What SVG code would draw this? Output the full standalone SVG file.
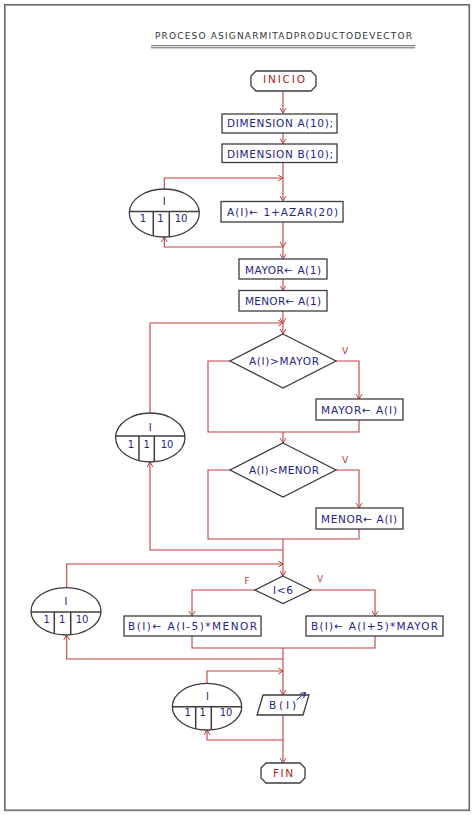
<svg xmlns="http://www.w3.org/2000/svg" width="474" height="815" viewBox="0 0 474 815">
<style>
.t{font-family:"DejaVu Sans","Liberation Sans",sans-serif;font-size:10.5px;fill:#23238c;text-anchor:middle}
.s{font-family:"DejaVu Sans","Liberation Sans",sans-serif;font-size:10px;fill:#23238c;text-anchor:middle}
.r{fill:#a82222}
.lb{font-family:"DejaVu Sans","Liberation Sans",sans-serif;font-size:9px;fill:#b83a3a;text-anchor:middle}
.b{fill:#fff;stroke:#3c3c3c;stroke-width:1.3}
.d{stroke:#3c3c3c;stroke-width:1.5;fill:none}
.c{fill:none;stroke:#bf4040;stroke-width:1.1}
.a{marker-end:url(#ah)}
</style>
<defs>
<marker id="ah" markerUnits="userSpaceOnUse" markerWidth="8" markerHeight="8" refX="5" refY="3.5" orient="auto">
<path d="M0,0.5 L5,3.5 L0,6.5" fill="none" stroke="#bf4040" stroke-width="1"/>
</marker>
<marker id="nh" markerUnits="userSpaceOnUse" markerWidth="8" markerHeight="8" refX="5" refY="3" orient="auto">
<path d="M0,0 L5,3 L0,6" fill="none" stroke="#23238c" stroke-width="1"/>
</marker>
</defs>
<rect width="474" height="815" fill="#fff"/>
<rect x="4.8" y="4.8" width="464.5" height="805.5" fill="none" stroke="#6e6e6e" stroke-width="1.7"/>
<g id="title">
<text x="283.5" y="39" textLength="257" lengthAdjust="spacing" style="font-family:'DejaVu Sans','Liberation Sans',sans-serif;font-size:9px;fill:#333;text-anchor:middle">PROCESO ASIGNARMITADPRODUCTODEVECTOR</text>
<line x1="151" y1="45.7" x2="415" y2="45.7" stroke="#666" stroke-width="1"/>
<line x1="151" y1="47.8" x2="415" y2="47.8" stroke="#666" stroke-width="1"/>
</g>
<g id="connectors">
<path class="c a" d="M283,91 V113"/>
<path class="c a" d="M283,133 V143.5"/>
<path class="c a" d="M283,162 V201"/>
<path class="c a" d="M164.3,189 V178 H283"/>
<path class="c a" d="M283,222 V247"/>
<path class="c a" d="M283,247 V259"/>
<path class="c a" d="M283,247 H164.3 V237"/>
<path class="c a" d="M283,279 V290.5"/>
<path class="c a" d="M283,311 V323"/>
<path class="c a" d="M283,323 V334"/>
<path class="c a" d="M150,413 V323 H283"/>
<path class="c a" d="M336,361 H359 V399"/>
<path class="c" d="M230,361 H208 V432 H359 V420"/>
<path class="c a" d="M283,432 V443"/>
<path class="c a" d="M336,470 H359 V508"/>
<path class="c" d="M230,470 H208 V539 H359 V529"/>
<path class="c" d="M283,539 V550"/>
<path class="c a" d="M283,550 H150 V462"/>
<path class="c a" d="M283,550 V576"/>
<path class="c a" d="M66.7,587.5 V564 H283"/>
<path class="c a" d="M255,590 H192 V616"/>
<path class="c a" d="M311,590 H375 V616"/>
<path class="c" d="M192,636 V648 H375 V636"/>
<path class="c" d="M283,648 V659"/>
<path class="c a" d="M283,659 H66.7 V635"/>
<path class="c a" d="M283,659 V695"/>
<path class="c a" d="M207,683.5 V671 H283"/>
<path class="c a" d="M283,715 V740 H207 V730"/>
<path class="c a" d="M283,740 V763"/>
</g>
<g id="inicio">
<path class="b" d="M256,71 H311 L316,76 V86 L311,91 H256 L251,86 V76 Z"/>
<text class="t r" x="284" y="82.5" textLength="42" lengthAdjust="spacing">INICIO</text>
</g>
<g id="dimA">
<rect class="b" x="222" y="114" width="115" height="19"/>
<text class="t" x="280" y="127" textLength="106" lengthAdjust="spacing">DIMENSION A(10);</text>
</g>
<g id="dimB">
<rect class="b" x="222" y="144" width="115" height="18.5"/>
<text class="t" x="280" y="157.5" textLength="106" lengthAdjust="spacing">DIMENSION B(10);</text>
</g>
<g id="loop1">
<ellipse class="b" cx="164.3" cy="213" rx="35" ry="24"/>
<line class="d" x1="129.3" y1="211.5" x2="199.3" y2="211.5"/>
<line class="d" x1="153.3" y1="211.5" x2="153.3" y2="235.8"/>
<line class="d" x1="169.3" y1="211.5" x2="169.3" y2="236.6"/>
<text class="s" x="164.3" y="205">I</text>
<text class="s" x="143" y="222">1</text>
<text class="s" x="160.5" y="222">1</text>
<text class="s" x="181" y="222">10</text>
</g>
<g id="azar">
<rect class="b" x="221" y="201.5" width="122" height="20.5"/>
<text class="t" x="282.5" y="216" textLength="111" lengthAdjust="spacing">A(I)← 1+AZAR(20)</text>
</g>
<g id="mayor1">
<rect class="b" x="239" y="259" width="88" height="20"/>
<text class="t" x="283" y="273.5" textLength="76" lengthAdjust="spacing">MAYOR← A(1)</text>
</g>
<g id="menor1">
<rect class="b" x="239" y="290.5" width="88" height="20.5"/>
<text class="t" x="283" y="304.5" textLength="76" lengthAdjust="spacing">MENOR← A(1)</text>
</g>
<g id="loop2">
<ellipse class="b" cx="150.3" cy="437.5" rx="34.7" ry="24.5"/>
<line class="d" x1="115.6" y1="436" x2="185" y2="436"/>
<line class="d" x1="139" y1="436" x2="139" y2="460.7"/>
<line class="d" x1="154.3" y1="436" x2="154.3" y2="461.8"/>
<text class="s" x="150.3" y="431">I</text>
<text class="s" x="131" y="448">1</text>
<text class="s" x="146.7" y="448">1</text>
<text class="s" x="167" y="448">10</text>
</g>
<g id="cond1">
<polygon class="b" points="283,334 336,361 283,388 230,361"/>
<text class="t" x="284" y="365" textLength="70" lengthAdjust="spacing">A(I)&gt;MAYOR</text>
<text class="lb" x="345" y="354">V</text>
</g>
<g id="mayor2">
<rect class="b" x="316" y="399" width="87" height="21"/>
<text class="t" x="359" y="413.5" textLength="76" lengthAdjust="spacing">MAYOR← A(I)</text>
</g>
<g id="cond2">
<polygon class="b" points="283,443 336,470 283,497 230,470"/>
<text class="t" x="284" y="474" textLength="70" lengthAdjust="spacing">A(I)&lt;MENOR</text>
<text class="lb" x="345" y="463">V</text>
</g>
<g id="menor2">
<rect class="b" x="316" y="508" width="87" height="21"/>
<text class="t" x="359" y="522.5" textLength="76" lengthAdjust="spacing">MENOR← A(I)</text>
</g>
<g id="loop3">
<ellipse class="b" cx="66" cy="611.3" rx="35" ry="23.7"/>
<line class="d" x1="31" y1="612" x2="101" y2="612"/>
<line class="d" x1="54.3" y1="612" x2="54.3" y2="633.6"/>
<line class="d" x1="70.7" y1="612" x2="70.7" y2="634.6"/>
<text class="s" x="66" y="605">I</text>
<text class="s" x="46.7" y="622.7">1</text>
<text class="s" x="62.3" y="622.7">1</text>
<text class="s" x="82" y="622.7">10</text>
</g>
<g id="cond3">
<polygon class="b" points="283,576 311,590 283,603.5 255,590"/>
<text class="t" x="283" y="593.5" textLength="20" lengthAdjust="spacing">I&lt;6</text>
<text class="lb" x="247" y="584">F</text>
<text class="lb" x="320" y="582">V</text>
</g>
<g id="bmenor">
<rect class="b" x="124" y="616" width="137" height="20"/>
<text class="t" x="192.5" y="629.5" textLength="129" lengthAdjust="spacing">B(I)← A(I-5)*MENOR</text>
</g>
<g id="bmayor">
<rect class="b" x="306" y="616" width="137" height="20"/>
<text class="t" x="374.5" y="629.5" textLength="127" lengthAdjust="spacing">B(I)← A(I+5)*MAYOR</text>
</g>
<g id="loop4">
<ellipse class="b" cx="207" cy="706.7" rx="34.7" ry="23.3"/>
<line class="d" x1="172.3" y1="706.7" x2="241.7" y2="706.7"/>
<line class="d" x1="195.7" y1="706.7" x2="195.7" y2="728.8"/>
<line class="d" x1="211.3" y1="706.7" x2="211.3" y2="729.6"/>
<text class="s" x="207.5" y="700">I</text>
<text class="s" x="187.7" y="716">1</text>
<text class="s" x="202.7" y="716">1</text>
<text class="s" x="226" y="716">10</text>
</g>
<g id="output">
<polygon class="b" points="263,695 309,695 303,715 257,715"/>
<text class="t" x="282.5" y="708.5" textLength="27" lengthAdjust="spacing">B(I)</text>
<line x1="296.5" y1="700" x2="305.5" y2="692.5" stroke="#23238c" stroke-width="1" marker-end="url(#nh)"/>
</g>
<g id="fin">
<path class="b" d="M266,763 H300 L305,768 V778 L300,783 H266 L261,778 V768 Z"/>
<text class="t r" x="283" y="777" textLength="20" lengthAdjust="spacing">FIN</text>
</g>
</svg>
